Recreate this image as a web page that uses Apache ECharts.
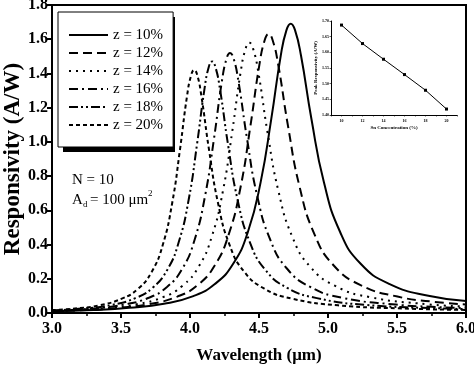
<!DOCTYPE html>
<html><head><meta charset="utf-8">
<script src="https://cdn.jsdelivr.net/npm/echarts@6/dist/echarts.min.js"></script>
<style>html,body{margin:0;padding:0;background:#fff}#c{width:474px;height:366px}</style>
</head><body><div id="c"></div>
<script>
// ---- data ----
const seriesNames = ['z = 10%', 'z = 12%', 'z = 14%', 'z = 16%', 'z = 18%', 'z = 20%'];

const wl10 = [3.0, 3.3, 3.559, 3.811, 4.024, 4.180, 4.314, 4.420, 4.512, 4.589, 4.658, 4.699, 4.730, 4.761, 4.804, 4.880, 4.970, 5.087, 5.235, 5.447, 5.737, 6.0];
const r10  = [0.010, 0.017, 0.030, 0.054, 0.099, 0.169, 0.289, 0.475, 0.765, 1.134, 1.506, 1.653, 1.690, 1.653, 1.506, 1.134, 0.765, 0.475, 0.289, 0.169, 0.099, 0.070];

const wl12 = [3.0, 3.25, 3.468, 3.706, 3.908, 4.055, 4.180, 4.280, 4.367, 4.438, 4.503, 4.541, 4.570, 4.599, 4.639, 4.710, 4.794, 4.903, 5.040, 5.236, 5.503, 5.75, 6.0];
const r12  = [0.011, 0.018, 0.029, 0.052, 0.096, 0.163, 0.279, 0.458, 0.738, 1.094, 1.452, 1.594, 1.630, 1.594, 1.452, 1.094, 0.738, 0.458, 0.279, 0.163, 0.096, 0.067, 0.050];

const wl14 = [3.0, 3.2, 3.387, 3.614, 3.805, 3.944, 4.063, 4.157, 4.239, 4.306, 4.367, 4.403, 4.430, 4.457, 4.495, 4.561, 4.640, 4.742, 4.870, 5.053, 5.301, 5.723, 6.0];
const r14  = [0.012, 0.018, 0.028, 0.051, 0.093, 0.158, 0.271, 0.444, 0.715, 1.060, 1.408, 1.545, 1.580, 1.545, 1.408, 1.060, 0.715, 0.444, 0.271, 0.158, 0.093, 0.051, 0.038];

const wl16 = [3.0, 3.304, 3.520, 3.701, 3.833, 3.945, 4.033, 4.110, 4.174, 4.231, 4.265, 4.290, 4.316, 4.351, 4.413, 4.486, 4.582, 4.702, 4.872, 5.102, 5.492, 5.75, 6.0];
const r16  = [0.013, 0.027, 0.049, 0.089, 0.152, 0.260, 0.427, 0.688, 1.020, 1.354, 1.487, 1.520, 1.487, 1.354, 1.020, 0.688, 0.427, 0.260, 0.152, 0.089, 0.049, 0.036, 0.029];

const wl18 = [3.0, 3.226, 3.432, 3.604, 3.728, 3.835, 3.918, 3.991, 4.051, 4.105, 4.136, 4.160, 4.184, 4.217, 4.275, 4.344, 4.434, 4.546, 4.704, 4.919, 5.280, 5.854, 6.0];
const r18  = [0.015, 0.026, 0.047, 0.087, 0.147, 0.252, 0.413, 0.665, 0.987, 1.310, 1.438, 1.470, 1.438, 1.310, 0.987, 0.665, 0.413, 0.252, 0.147, 0.087, 0.047, 0.026, 0.023];

const wl20 = [3.0, 3.148, 3.343, 3.506, 3.624, 3.724, 3.803, 3.871, 3.927, 3.978, 4.008, 4.030, 4.053, 4.083, 4.138, 4.203, 4.286, 4.391, 4.539, 4.738, 5.073, 5.600, 6.0];
const r20  = [0.017, 0.025, 0.045, 0.084, 0.142, 0.243, 0.399, 0.643, 0.953, 1.265, 1.389, 1.420, 1.389, 1.265, 0.953, 0.643, 0.399, 0.243, 0.142, 0.084, 0.045, 0.025, 0.018];

// inset: peak responsivity vs Sn concentration
const snConc   = [10, 12, 14, 16, 18, 20];
const peakResp = [1.687, 1.628, 1.578, 1.529, 1.479, 1.419];

// axis tick settings
const xMain = {min: 3.0, max: 6.0, step: 0.5};
const yMain = {min: 0.0, max: 1.8, step: 0.2};
const xInset = {min: 9, max: 21, step: 1};
const yInset = {min: 1.40, max: 1.70, step: 0.05};

// ---- build ----
const wls = [wl10, wl12, wl14, wl16, wl18, wl20];
const rs  = [r10, r12, r14, r16, r18, r20];
const dashes = ['solid', [9, 5], [2, 5], [9, 4, 2, 4], [9, 3, 2, 3, 2, 3], [4, 3]];
const FF = 'Liberation Serif';

const mainSeries = seriesNames.map((n, i) => ({
  name: n, type: 'line', xAxisIndex: 0, yAxisIndex: 0,
  data: wls[i].map((x, j) => [x, rs[i][j]]),
  symbol: 'none', smooth: 0.5,
  lineStyle: {color: '#000', width: 2, type: dashes[i]},
  itemStyle: {color: '#000'},
  animation: false, z: 3
}));

const chart = echarts.init(document.getElementById('c'), null, {renderer: 'canvas'});
chart.setOption({
  animation: false,
  backgroundColor: '#fff',
  textStyle: {fontFamily: FF},
  grid: [
    {left: 52, right: 8, top: 5, bottom: 53, show: true, borderColor: '#000', borderWidth: 2,
     backgroundColor: 'transparent', containLabel: false, outerBoundsMode: 'none'},
    {left: 331, right: 17, top: 21, bottom: 251, show: false, containLabel: false, outerBoundsMode: 'none'}
  ],
  xAxis: [
    {gridIndex: 0, type: 'value', min: xMain.min, max: xMain.max, interval: xMain.step,
     name: 'Wavelength (\u03bcm)', nameLocation: 'middle', nameGap: 34, nameMoveOverlap: false,
     nameTextStyle: {fontFamily: FF, fontSize: 17, fontWeight: 'bold', color: '#000'},
     axisLine: {show: true, lineStyle: {color: '#000', width: 2}},
     axisTick: {show: true, length: 5, lineStyle: {color: '#000', width: 2}},
     minorTick: {show: true, splitNumber: 2, length: 3, lineStyle: {color: '#000', width: 1.5}},
     splitLine: {show: false},
     axisLabel: {fontFamily: FF, fontSize: 16, fontWeight: 'bold', color: '#000', margin: 8, formatter: v => v.toFixed(1)}},
    {gridIndex: 1, type: 'value', min: xInset.min, max: xInset.max, interval: xInset.step,
     name: 'Sn Concentration (%)', nameLocation: 'middle', nameGap: 10, nameMoveOverlap: false,
     nameTextStyle: {fontFamily: FF, fontSize: 5, fontWeight: 'bold', color: '#000'},
     axisLine: {show: true, lineStyle: {color: '#000', width: 1}},
     axisTick: {show: true, length: 1.5, lineStyle: {color: '#000', width: 0.6}},
     splitLine: {show: false},
     axisLabel: {fontFamily: FF, fontSize: 4, fontWeight: 'bold', color: '#000', margin: 4,
       formatter: v => (Math.round(v) % 2 === 0 ? String(Math.round(v)) : '')}}
  ],
  yAxis: [
    {gridIndex: 0, type: 'value', min: yMain.min, max: yMain.max, interval: yMain.step,
     name: 'Responsivity (A/W)', nameLocation: 'middle', nameGap: 27, nameRotate: 90, nameMoveOverlap: false,
     nameTextStyle: {fontFamily: FF, fontSize: 23, fontWeight: 'bold', color: '#000'},
     axisLine: {show: true, lineStyle: {color: '#000', width: 2}},
     axisTick: {show: true, length: 5, lineStyle: {color: '#000', width: 2}},
     splitLine: {show: false},
     axisLabel: {fontFamily: FF, fontSize: 16, fontWeight: 'bold', color: '#000', margin: 4, formatter: v => v.toFixed(1)}},
    {gridIndex: 1, type: 'value', min: yInset.min, max: yInset.max, interval: yInset.step,
     name: 'Peak Responsivity (A/W)', nameLocation: 'middle', nameGap: 13, nameRotate: 90, nameMoveOverlap: false,
     nameTextStyle: {fontFamily: FF, fontSize: 5, fontWeight: 'bold', color: '#000'},
     axisLine: {show: true, lineStyle: {color: '#000', width: 1}},
     axisTick: {show: true, length: 1.5, lineStyle: {color: '#000', width: 0.6}},
     splitLine: {show: false},
     axisLabel: {fontFamily: FF, fontSize: 4, fontWeight: 'bold', color: '#000', margin: 2, formatter: v => v.toFixed(2)}}
  ],
  legend: {
    show: true, orient: 'vertical', left: 58, top: 12, z: 10,
    data: seriesNames,
    itemWidth: 39, itemHeight: 14, itemGap: 0,
    padding: [14, 10, 13, 10],
    backgroundColor: '#fff', borderColor: '#000', borderWidth: 1,
    itemStyle: {color: 'rgba(0,0,0,0)', borderColor: 'rgba(0,0,0,0)', borderWidth: 0, opacity: 0},
    lineStyle: {width: 2},
    textStyle: {fontFamily: FF, fontSize: 15, color: '#000', width: 48, lineHeight: 18, height: 18},
    selectedMode: false
  },
  graphic: [
    {type: 'rect', left: 63, top: 17, z: 5, shape: {width: 112, height: 135}, style: {fill: '#000'}},
    {type: 'text', left: 72, top: 173, style: {text: 'N = 10', font: '15px "Liberation Serif"', fill: '#000'}},
    {type: 'text', left: 72, top: 193, style: {text: 'A', font: '15px "Liberation Serif"', fill: '#000'}},
    {type: 'text', left: 83, top: 200, style: {text: 'd', font: '9px "Liberation Serif"', fill: '#000'}},
    {type: 'text', left: 90, top: 193, style: {text: '= 100 \u03bcm', font: '15px "Liberation Serif"', fill: '#000'}},
    {type: 'text', left: 148, top: 189, style: {text: '2', font: '9px "Liberation Serif"', fill: '#000'}}
  ],
  series: mainSeries.concat([{
    name: 'inset', type: 'line', xAxisIndex: 1, yAxisIndex: 1,
    data: snConc.map((x, j) => [x, peakResp[j]]),
    symbol: 'rect', symbolSize: 3, showSymbol: true,
    lineStyle: {color: '#000', width: 1}, itemStyle: {color: '#000'},
    animation: false, z: 4
  }])
});
</script></body></html>
